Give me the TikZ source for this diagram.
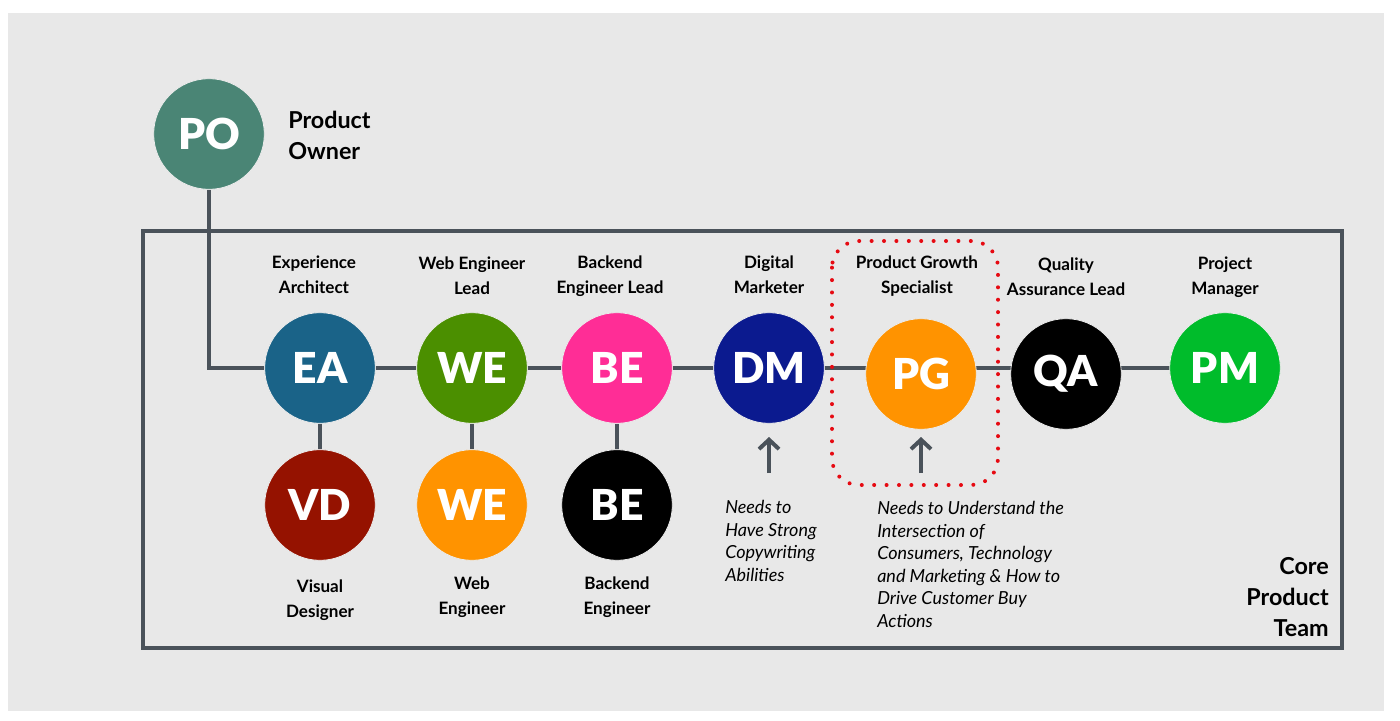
\documentclass[tikz,border=0pt]{standalone}
\usepackage{fontspec}
\setmainfont{Lato}
\newfontfamily\heavyfont{Lato Black}
\usetikzlibrary{arrows.meta,backgrounds}
\definecolor{bgc}{HTML}{E8E8E8}
\definecolor{linec}{HTML}{4A525A}
\definecolor{cPO}{HTML}{4A8575}
\definecolor{cEA}{HTML}{1A6388}
\definecolor{cWE}{HTML}{4B8F00}
\definecolor{cBE}{HTML}{FF2D96}
\definecolor{cDM}{HTML}{0B1A8F}
\definecolor{cPG}{HTML}{FF9300}
\definecolor{cPM}{HTML}{00BC2B}
\definecolor{cVD}{HTML}{951200}
\definecolor{cred}{HTML}{E60A12}
\tikzset{
  role/.style={circle, minimum size=83pt, inner sep=0pt, text=white, draw=white!92!black, line width=0.6pt,
    font=\fontsize{32}{32}\selectfont\heavyfont},
  lbl/.style={align=center, inner sep=0pt, font=\fontsize{12.8}{18.75}\selectfont\bfseries},
  note/.style={align=left, inner sep=0pt, anchor=north west, font=\fontsize{13.5}{16.9}\selectfont\itshape},
  big/.style={inner sep=0pt, font=\fontsize{17.5}{23.25}\selectfont\bfseries},
  conn/.style={draw=linec, line width=3pt},
  arr/.style={draw=linec, line width=3pt, -{Straight Barb[length=7pt,width=15pt,line width=3pt]}},
  frame/.style={draw=linec, line width=3pt},
  redbox/.style={draw=cred, line width=3pt, line cap=round, dash pattern=on 0pt off 9.3pt, rounded corners=20pt}
}
\begin{document}
\begin{tikzpicture}[x=0.75pt,y=-0.75pt]
\useasboundingbox (0,0) rectangle (1400,721);
% nodes
\node[role, fill=cPO] (PO) at (209,134) {PO};
\node[role, fill=cEA] (EA) at (320,368) {EA};
\node[role, fill=cWE] (WEL) at (472,368) {WE};
\node[role, fill=cBE] (BEL) at (617,368) {BE};
\node[role, fill=cDM] (DM) at (769,368) {DM};
\node[role, fill=cPG] (PG) at (921,374) {PG};
\node[role, fill=black] (QA) at (1066,374) {QA};
\node[role, fill=cPM] (PM) at (1225,368) {PM};
\node[role, fill=cVD] (VD) at (320,505) {VD};
\node[role, fill=cPG] (WE) at (472,505) {WE};
\node[role, fill=black] (BE) at (617,505) {BE};
% labels
\node[big, align=left, anchor=west] (lPO) at (288,135) {Product\\Owner};
\node[lbl] (lEA) at (314,275) {Experience\\Architect};
\node[lbl] (lWEL) at (472,276) {Web Engineer\\Lead};
\node[lbl] (lBEL) at (610,276) {Backend\\Engineer Lead};
\node[lbl] (lDM) at (769,275) {Digital\\Marketer};
\node[lbl] (lPG) at (917,276) {Product Growth\\Specialist};
\node[lbl] (lQA) at (1066,277) {Quality\\Assurance Lead};
\node[lbl] (lPM) at (1225,277) {Project\\Manager};
\node[lbl] (lVD) at (320,600) {Visual\\Designer};
\node[lbl] (lWE) at (472,597) {Web\\Engineer};
\node[lbl] (lBE) at (617,597) {Backend\\Engineer};
\node[note] (nDM) at (725,500) {Needs to\\Have Strong\\Copywriting\\Abilities};
\node[note] (nPG) at (877,501) {Needs to Understand the\\Intersection of\\Consumers, Technology\\and Marketing \& How to\\Drive Customer Buy\\Actions};
\node[big, align=right, anchor=east] (core) at (1329,597) {Core\\Product\\Team};
% arrows
\coordinate (dmA) at (769,473);
\coordinate (dmB) at (769,437);
\coordinate (pgA) at (921,473);
\coordinate (pgB) at (921,437);
\draw[arr] (dmA) -- (dmB);
\draw[arr] (pgA) -- (pgB);
\begin{scope}[on background layer]
  \fill[bgc] (8,13) rectangle (1384,711);
  \draw[frame] (143,231) rectangle (1342,648);
  \draw[conn] (PO) |- (EA);
  \draw[conn] (EA) -- (WEL);
  \draw[conn] (WEL) -- (BEL);
  \draw[conn] (BEL) -- (DM);
  \draw[conn] (DM) -- (DM -| PM);
  \draw[conn] (EA) -- (VD);
  \draw[conn] (WEL) -- (WE);
  \draw[conn] (BEL) -- (BE);
\end{scope}
\draw[redbox] (832,241) rectangle (998,485);
\end{tikzpicture}
\end{document}
